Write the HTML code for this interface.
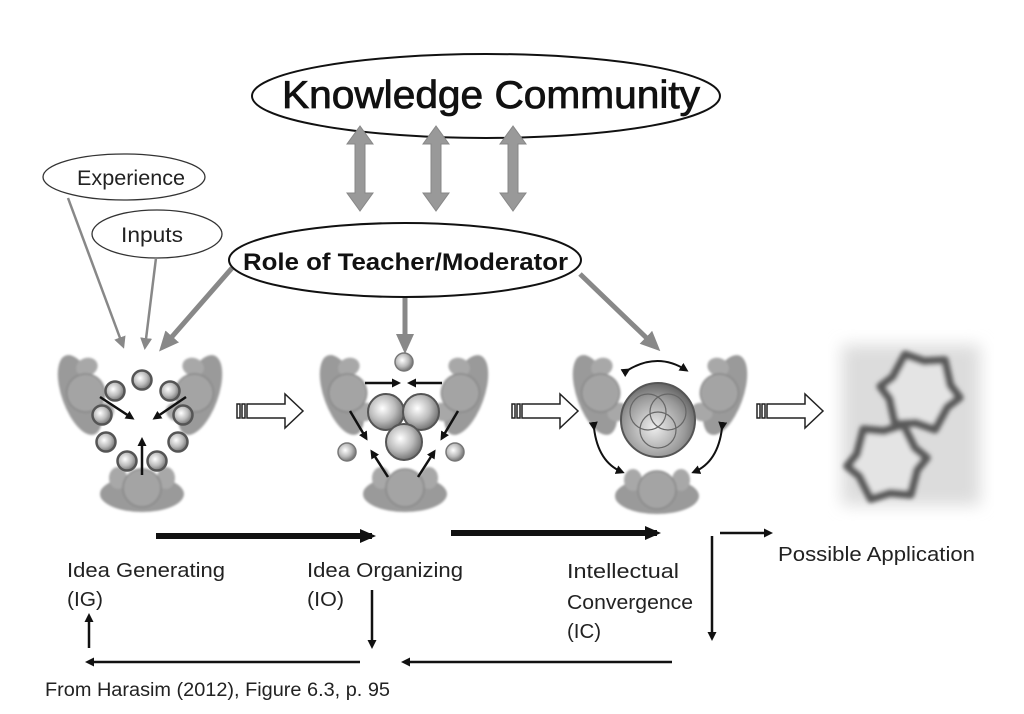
<!DOCTYPE html>
<html><head><meta charset="utf-8"><style>
html,body{margin:0;padding:0;background:#fff;}
svg{display:block}
text{font-family:"Liberation Sans",sans-serif;}
</style></head><body>
<svg width="1024" height="714" viewBox="0 0 1024 714" xmlns="http://www.w3.org/2000/svg">
<defs>
<radialGradient id="ball" cx="0.4" cy="0.4" r="0.6"><stop offset="0" stop-color="#fff"/><stop offset="0.6" stop-color="#bbb"/><stop offset="1" stop-color="#777"/></radialGradient>
<radialGradient id="big" cx="0.45" cy="0.6" r="0.6"><stop offset="0" stop-color="#eee"/><stop offset="0.7" stop-color="#999"/><stop offset="1" stop-color="#666"/></radialGradient>
<filter id="bl"><feGaussianBlur stdDeviation="1"/></filter>
<filter id="bl2"><feGaussianBlur stdDeviation="8"/></filter>
<filter id="bl3"><feGaussianBlur stdDeviation="2"/></filter>
<g id="person" filter="url(#bl)">
<ellipse cx="0" cy="0" rx="18" ry="42" fill="#9a9a9a"/>
<ellipse cx="16" cy="-24" rx="11" ry="9" fill="#a8a8a8"/>
<ellipse cx="16" cy="24" rx="11" ry="9" fill="#a8a8a8"/>
<circle cx="6" cy="0" r="19" fill="#a4a4a4" stroke="#888" stroke-width="1.5"/>
</g>
<marker id="ah" markerWidth="9" markerHeight="9" refX="6" refY="4.5" orient="auto" markerUnits="userSpaceOnUse"><path d="M0,0 L9,4.5 L0,9 z" fill="#111"/></marker>
<marker id="ahb" markerWidth="16" markerHeight="14" refX="12" refY="7" orient="auto" markerUnits="userSpaceOnUse"><path d="M0,0 L16,7 L0,14 z" fill="#111"/></marker>
<marker id="ag" markerWidth="12" markerHeight="12" refX="9" refY="6" orient="auto" markerUnits="userSpaceOnUse"><path d="M0,0 L12,6 L0,12 z" fill="#888"/></marker>
<marker id="agb" markerWidth="20" markerHeight="18" refX="14" refY="9" orient="auto" markerUnits="userSpaceOnUse"><path d="M0,0 L20,9 L0,18 z" fill="#888"/></marker>
<g id="dbl"><path d="M0,0 L-13,18 L-5,18 L-5,67 L-13,67 L0,85 L13,67 L5,67 L5,18 L13,18 z" fill="#999" stroke="#888"/></g>
<g id="hol"><rect x="0" y="-7" width="3" height="14" fill="none" stroke="#222" stroke-width="1.5"/><rect x="5" y="-7" width="3" height="14" fill="none" stroke="#222" stroke-width="1.5"/><path d="M10,-7 L48,-7 L48,-17 L66,0 L48,17 L48,7 L10,7 z" fill="#fff" stroke="#222" stroke-width="1.5"/></g>
<path id="gear" d="M40,0 L29,11 L20,35 L0,31 L-20,35 L-29,11 L-40,0 L-29,-11 L-20,-35 L0,-31 L20,-35 L29,-11 z"/>
</defs>

<ellipse cx="486" cy="96" rx="234" ry="42" fill="#fff" stroke="#111" stroke-width="2"/>
<text x="282" y="108" font-size="39" textLength="418" lengthAdjust="spacingAndGlyphs" fill="#111" stroke="#111" stroke-width="0.8">Knowledge Community</text>

<use href="#dbl" x="360" y="126"/>
<use href="#dbl" x="436" y="126"/>
<use href="#dbl" x="513" y="126"/>

<ellipse cx="124" cy="177" rx="81" ry="23" fill="#fff" stroke="#333" stroke-width="1.3"/>
<text x="77" y="185" font-size="21" textLength="108" lengthAdjust="spacingAndGlyphs" fill="#222">Experience</text>
<ellipse cx="157" cy="234" rx="65" ry="24" fill="#fff" stroke="#333" stroke-width="1.3"/>
<text x="121" y="242" font-size="21" textLength="62" lengthAdjust="spacingAndGlyphs" fill="#222">Inputs</text>

<line x1="68" y1="198" x2="123" y2="346" stroke="#888" stroke-width="2.5" marker-end="url(#ag)"/>
<line x1="156" y1="258" x2="145" y2="347" stroke="#888" stroke-width="2.5" marker-end="url(#ag)"/>
<line x1="232" y1="268" x2="163" y2="347" stroke="#888" stroke-width="5" marker-end="url(#agb)"/>
<line x1="405" y1="298" x2="405" y2="348" stroke="#888" stroke-width="5" marker-end="url(#agb)"/>
<line x1="580" y1="274" x2="656" y2="347" stroke="#888" stroke-width="5" marker-end="url(#agb)"/>

<ellipse cx="405" cy="260" rx="176" ry="37" fill="#fff" stroke="#111" stroke-width="2"/>
<text x="243" y="270" font-size="24" font-weight="bold" textLength="325" lengthAdjust="spacingAndGlyphs" fill="#111">Role of Teacher/Moderator</text>

<!-- Group 1 -->
<use href="#person" transform="translate(80,395) rotate(-20)"/>
<use href="#person" transform="translate(200,395) rotate(200)"/>
<use href="#person" transform="translate(142,494) rotate(-90)"/>
<g fill="url(#ball)" stroke="#555" stroke-width="2.5">
<circle cx="142" cy="380" r="9.5"/><circle cx="115" cy="391" r="9.5"/><circle cx="170" cy="391" r="9.5"/>
<circle cx="102" cy="415" r="9.5"/><circle cx="183" cy="415" r="9.5"/>
<circle cx="106" cy="442" r="9.5"/><circle cx="178" cy="442" r="9.5"/>
<circle cx="127" cy="461" r="9.5"/><circle cx="157" cy="461" r="9.5"/>
</g>
<g stroke="#111" stroke-width="2.5" marker-end="url(#ah)">
<line x1="100" y1="397" x2="132" y2="418"/><line x1="186" y1="397" x2="155" y2="418"/><line x1="142" y1="475" x2="142" y2="440"/>
</g>
<use href="#hol" x="237" y="411"/>

<!-- Group 2 -->
<use href="#person" transform="translate(342,395) rotate(-20)"/>
<use href="#person" transform="translate(466,395) rotate(200)"/>
<use href="#person" transform="translate(405,494) rotate(-90)"/>
<circle cx="404" cy="362" r="9" fill="url(#ball)" stroke="#777" stroke-width="1.5"/>
<circle cx="347" cy="452" r="9" fill="url(#ball)" stroke="#777" stroke-width="1.5"/>
<circle cx="455" cy="452" r="9" fill="url(#ball)" stroke="#777" stroke-width="1.5"/>
<g fill="url(#ball)" stroke="#555" stroke-width="2">
<circle cx="386" cy="412" r="18"/><circle cx="421" cy="412" r="18"/><circle cx="404" cy="442" r="18"/>
</g>
<g stroke="#111" stroke-width="2.5" marker-end="url(#ah)">
<line x1="365" y1="383" x2="398" y2="383"/><line x1="442" y1="383" x2="410" y2="383"/>
<line x1="350" y1="411" x2="366" y2="438"/><line x1="458" y1="411" x2="442" y2="438"/>
<line x1="388" y1="477" x2="372" y2="452"/><line x1="418" y1="477" x2="434" y2="452"/>
</g>
<use href="#hol" x="512" y="411"/>

<!-- Group 3 -->
<use href="#person" transform="translate(595,395) rotate(-20)"/>
<use href="#person" transform="translate(725,395) rotate(200)"/>
<use href="#person" transform="translate(657,496) rotate(-90)"/>
<circle cx="658" cy="420" r="37" fill="url(#big)" stroke="#555" stroke-width="2"/>
<g fill="none" stroke="#666" stroke-width="1.2"><circle cx="648" cy="412" r="18"/><circle cx="668" cy="412" r="18"/><circle cx="658" cy="430" r="18"/></g>
<g fill="none" stroke="#111" stroke-width="2" marker-start="url(#ah)" marker-end="url(#ah)">
<path d="M628,370 Q658,352 686,370"/><path d="M594,428 Q598,462 622,472"/><path d="M722,428 Q718,462 694,472"/>
</g>
<use href="#hol" x="757" y="411"/>

<!-- Gears -->
<rect x="842" y="345" width="138" height="160" fill="#dcdcdc" filter="url(#bl2)"/>
<g fill="#e4e4e4" stroke="#5a5a5a" stroke-width="8" stroke-linejoin="round" filter="url(#bl3)">
<use href="#gear" transform="translate(920,392) rotate(8)"/>
<use href="#gear" transform="translate(887,462) rotate(-6)"/>
</g>

<!-- Bold progress arrows -->
<line x1="156" y1="536" x2="372" y2="536" stroke="#111" stroke-width="6" marker-end="url(#ahb)"/>
<line x1="451" y1="533" x2="657" y2="533" stroke="#111" stroke-width="6" marker-end="url(#ahb)"/>

<g font-size="20" fill="#222">
<text x="67" y="577" textLength="158" lengthAdjust="spacingAndGlyphs">Idea Generating</text><text x="67" y="606" textLength="36" lengthAdjust="spacingAndGlyphs">(IG)</text>
<text x="307" y="577" textLength="156" lengthAdjust="spacingAndGlyphs">Idea Organizing</text><text x="307" y="606" textLength="37" lengthAdjust="spacingAndGlyphs">(IO)</text>
<text x="567" y="578" textLength="112" lengthAdjust="spacingAndGlyphs">Intellectual</text><text x="567" y="609" textLength="126" lengthAdjust="spacingAndGlyphs">Convergence</text><text x="567" y="638" textLength="34" lengthAdjust="spacingAndGlyphs">(IC)</text>
<text x="778" y="561" textLength="197" lengthAdjust="spacingAndGlyphs">Possible Application</text>
</g>

<g stroke="#111" stroke-width="2.5" marker-end="url(#ah)">
<line x1="720" y1="533" x2="770" y2="533"/>
<line x1="712" y1="536" x2="712" y2="638"/>
<line x1="372" y1="590" x2="372" y2="646"/>
<line x1="672" y1="662" x2="404" y2="662"/>
<line x1="360" y1="662" x2="88" y2="662"/>
<line x1="89" y1="648" x2="89" y2="616"/>
</g>

<text x="45" y="696" font-size="19" textLength="345" lengthAdjust="spacingAndGlyphs" fill="#222">From Harasim (2012), Figure 6.3, p. 95</text>
</svg>
</body></html>
